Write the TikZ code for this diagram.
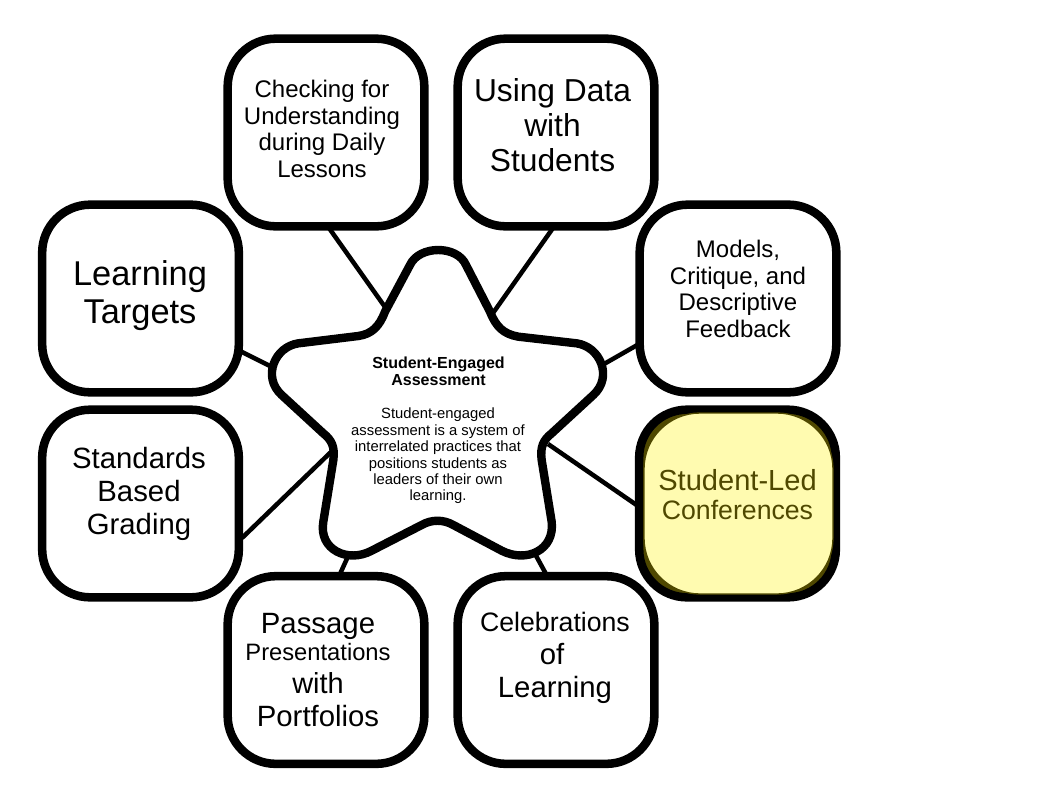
\documentclass[tikz,border=0pt]{standalone}
\usepackage{fontspec}
\setmainfont{Liberation Sans}
\newcommand{\pxf}[2]{\fontsize{#1}{#2}\selectfont}
\tikzset{
  boxnode/.style={draw=black,line width=6.4pt,fill=white,rounded corners=36pt,minimum width=147.5pt,minimum height=140.75pt,inner sep=0pt},
  link/.style={draw=black,line width=3.4pt},
  starline/.style={draw=black,line width=6.3pt,fill=white,line join=round},
  lbl/.style={align=center,inner sep=0pt,text=black},
  hl/.style={align=center,inner sep=0pt,text=hlink},
}
\definecolor{hlink}{HTML}{4F4800}
\definecolor{hlfill}{HTML}{FFFBB0}
\begin{document}
\begin{tikzpicture}[x=.75pt,y=-.75pt]
\useasboundingbox (0,0) rectangle (1058,794);
% boxes
\node[boxnode] (check) at (326,132.5) {};
\node[boxnode] (data) at (556,132.5) {};
\node[boxnode] (targets) at (140.5,298.5) {};
\node[boxnode] (models) at (738,298.5) {};
\node[boxnode] (grading) at (140.5,503.5) {};
\node[boxnode,fill=hlink] (sled) at (737.5,503.5) {};
\node[boxnode] (passage) at (326,670) {};
\node[boxnode] (celeb) at (556,670) {};
\node[draw=hlink,line width=1pt,fill=hlfill,rounded corners=42pt,minimum width=141.75pt,minimum height=135.75pt,inner sep=0pt] (sledin) at (738.5,503.5) {};
% rim points
\coordinate (r1) at (385,307);
\coordinate (r2) at (493,313);
\coordinate (r3) at (272,367);
\coordinate (r4) at (604,364);
\coordinate (r5) at (332,451);
\coordinate (r6) at (548,444);
\coordinate (r7) at (350,552);
\coordinate (r8) at (534,552);
\coordinate (b1) at (329,228);
\coordinate (b2) at (553,228);
\coordinate (b3) at (240,351);
\coordinate (b4) at (639,344);
\coordinate (b5) at (242,538);
\coordinate (b6) at (638,506);
\coordinate (b7) at (340,574);
\coordinate (b8) at (546,574);
\draw[link] (b1) -- (r1);
\draw[link] (b2) -- (r2);
\draw[link] (b3) -- (r3);
\draw[link] (b4) -- (r4);
\draw[link] (b5) -- (r5);
\draw[link] (b6) -- (r6);
\draw[link] (b7) -- (r7);
\draw[link] (b8) -- (r8);
% star
\begin{scope}[shift={(260,230)},x=.25pt,y=-.25pt]
\draw[starline] (450,105) .. controls (478,45) and (592,45) .. (618,105)
 -- (690,245) .. controls (708,290) and (730,312) .. (775,320)
 -- (950,340) .. controls (1020,350) and (1060,440) .. (1000,495)
 -- (875,610) .. controls (850,630) and (840,650) .. (845,690)
 -- (875,875) .. controls (885,960) and (800,1000) .. (725,962)
 -- (580,885) .. controls (550,868) and (515,868) .. (485,885)
 -- (335,962) .. controls (265,1000) and (175,960) .. (190,875)
 -- (220,690) .. controls (225,650) and (215,630) .. (190,610)
 -- (65,495) .. controls (5,440) and (45,350) .. (115,340)
 -- (295,318) .. controls (335,312) and (358,290) .. (375,245) -- cycle;
\end{scope}
% labels
\node[lbl,font=\pxf{18}{20}] (tcheck) at (322,129) {Checking for\\Understanding\\during Daily\\Lessons};
\node[lbl,font=\pxf{23.8}{26.2}] (tdata) at (552.5,125.5) {Using Data\\with\\Students};
\node[lbl,font=\pxf{25.8}{28.5}] (ttargets) at (140,295.5) {Learning\\Targets};
\node[lbl,font=\pxf{18}{20}] (tmodels) at (738,289) {Models,\\Critique, and\\Descriptive\\Feedback};
\node[lbl,font=\pxf{22}{24.8}] (tgrading) at (139,494) {Standards\\Based\\Grading};
\node[hl,font=\pxf{21.8}{21.8}] (tsled) at (737.5,480) {Student-Led};
\node[hl,font=\pxf{20}{20}] (tsled2) at (737.5,510) {Conferences};
\node[lbl,font=\pxf{22}{22}] (tp1) at (318,626) {Passage};
\node[lbl,font=\pxf{17.8}{17.8}] (tp2) at (318,652.5) {Presentations};
\node[lbl,font=\pxf{21.7}{21.7}] (tp3) at (318,683) {with};
\node[lbl,font=\pxf{22}{22}] (tp4) at (318,716) {Portfolios};
\node[lbl,font=\pxf{20}{20}] (tc1) at (555,621.5) {Celebrations};
\node[lbl,font=\pxf{22}{22}] (tc2) at (552,654) {of};
\node[lbl,font=\pxf{22}{22}] (tc3) at (555,690) {Learning};
\node[lbl,font=\bfseries\pxf{12}{13}] (tstar) at (438.5,371) {Student-Engaged\\Assessment};
\node[lbl,font=\pxf{11.1}{12.3}] (tbody) at (438,456) {Student-engaged\\assessment is a system of\\interrelated practices that\\positions students as\\leaders of their own\\learning.};
\end{tikzpicture}
\end{document}
